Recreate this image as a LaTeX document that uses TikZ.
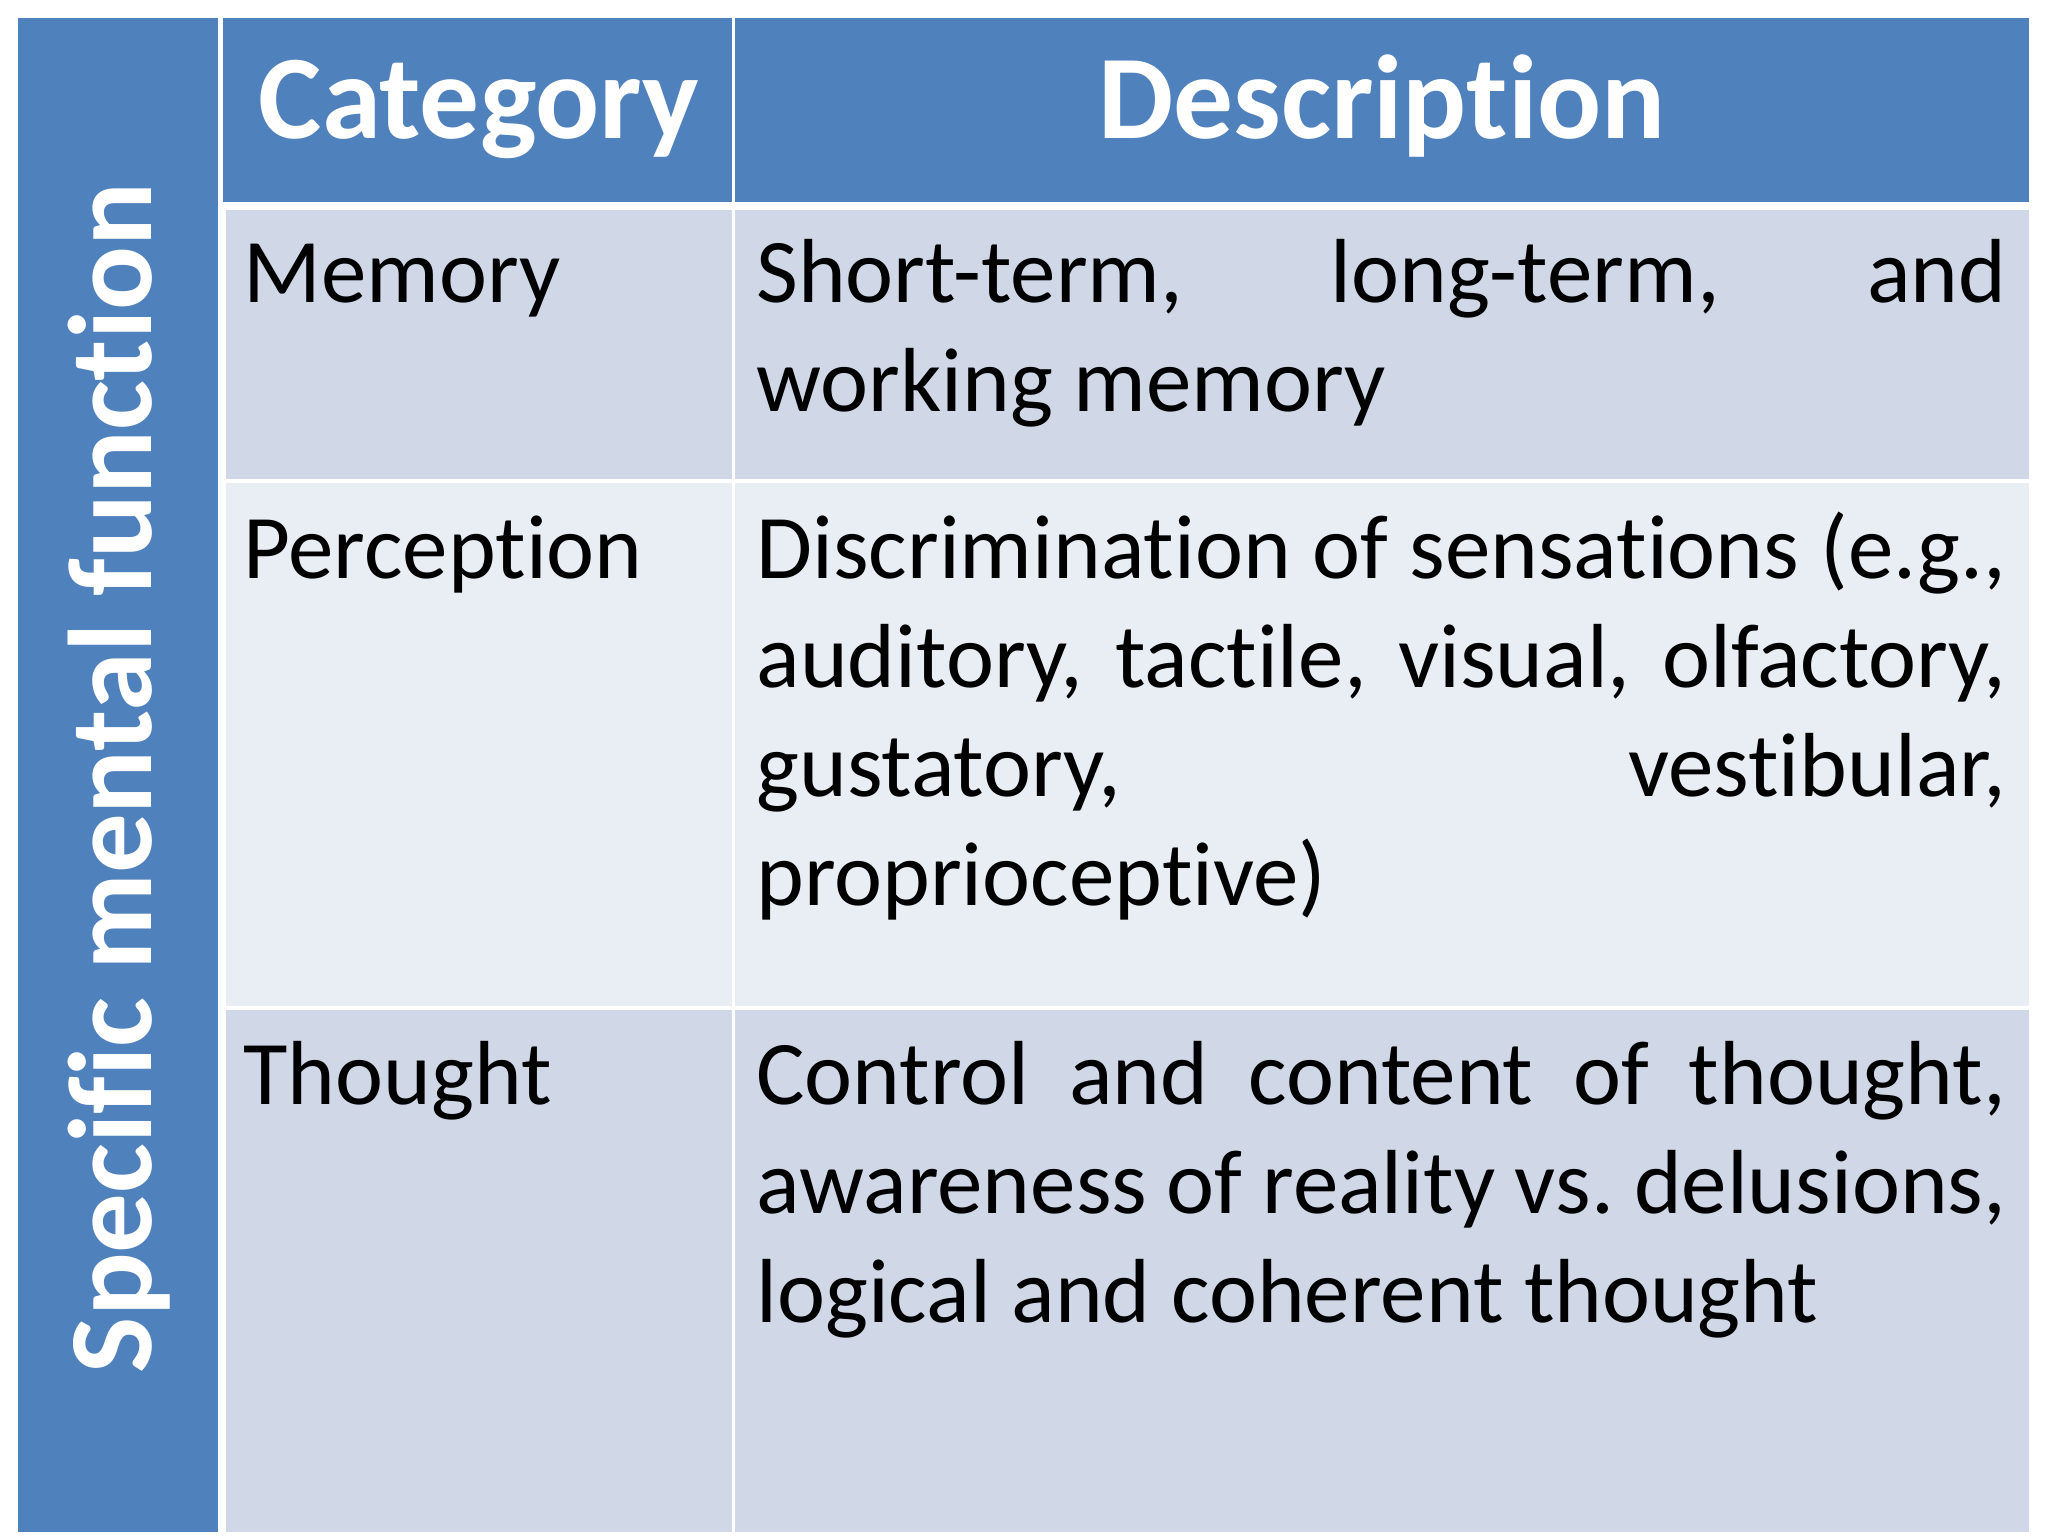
\documentclass[tikz,border=0pt]{standalone}
\usepackage{fontspec}
\setmainfont{Carlito}[Ligatures=NoCommon]
\definecolor{hdrblue}{HTML}{4F81BD}
\definecolor{rowdark}{HTML}{D0D8E8}
\definecolor{rowlight}{HTML}{E9EDF4}
\begin{document}
\begin{tikzpicture}[x=0.5pt,y=-0.5pt,
  hdr/.style={anchor=base, inner sep=0pt, text=white, font=\bfseries\fontsize{59.7}{70}\selectfont},
  titletext/.style={anchor=base, inner sep=0pt, text=white, rotate=90, font=\bfseries\fontsize{59.5}{70}\selectfont},
  catlabel/.style={anchor=base west, inner sep=0pt, text=black, font=\fontsize{45.5}{54.5}\selectfont},
  desc/.style={anchor=north west, inner sep=0pt, text=black, text width=625pt, align=justify, font=\fontsize{45.5}{54.5}\selectfont}]
\useasboundingbox (0,0) rectangle (2048,1536);
\fill[white] (0,0) rectangle (2048,1536);
% left title column
\fill[hdrblue] (18,18) rectangle (218,1532);
% header
\fill[hdrblue] (223,18) rectangle (732,202);
\fill[hdrblue] (735,18) rectangle (2029,202);
% rows
\fill[rowdark] (226,210) rectangle (732,479);
\fill[rowdark] (735,210) rectangle (2029,479);
\fill[rowlight] (226,483) rectangle (732,1006);
\fill[rowlight] (735,483) rectangle (2029,1006);
\fill[rowdark] (226,1010) rectangle (732,1532);
\fill[rowdark] (735,1010) rectangle (2029,1532);
% texts
\node[titletext] (title) at (151,778) {Specific mental function};
\node[hdr] (cathdr) at (479,138) {Category};
\node[hdr] (deschdr) at (1382,138) {Description};
\node[catlabel] (mem) at (243,302) {Memory};
\node[catlabel] (perc) at (243,578) {Perception};
\node[catlabel] (thou) at (243,1104) {Thought};
\node[desc] (memdesc) at (756,222) {\noindent\rule{0pt}{40pt}Short-term,~long-term,~and\linebreak working~memory};
\node[desc] (percdesc) at (756,498) {\noindent\rule{0pt}{40pt}Discrimination~of~sensations~(e.g.,\linebreak auditory,~tactile,~visual,~olfactory,\linebreak gustatory,~vestibular,\linebreak proprioceptive)};
\node[desc] (thoudesc) at (756,1024) {\noindent\rule{0pt}{40pt}Control~and~content~of~thought,\linebreak awareness~of~reality~vs.~delusions,\linebreak logical~and~coherent~thought};
\end{tikzpicture}
\end{document}
